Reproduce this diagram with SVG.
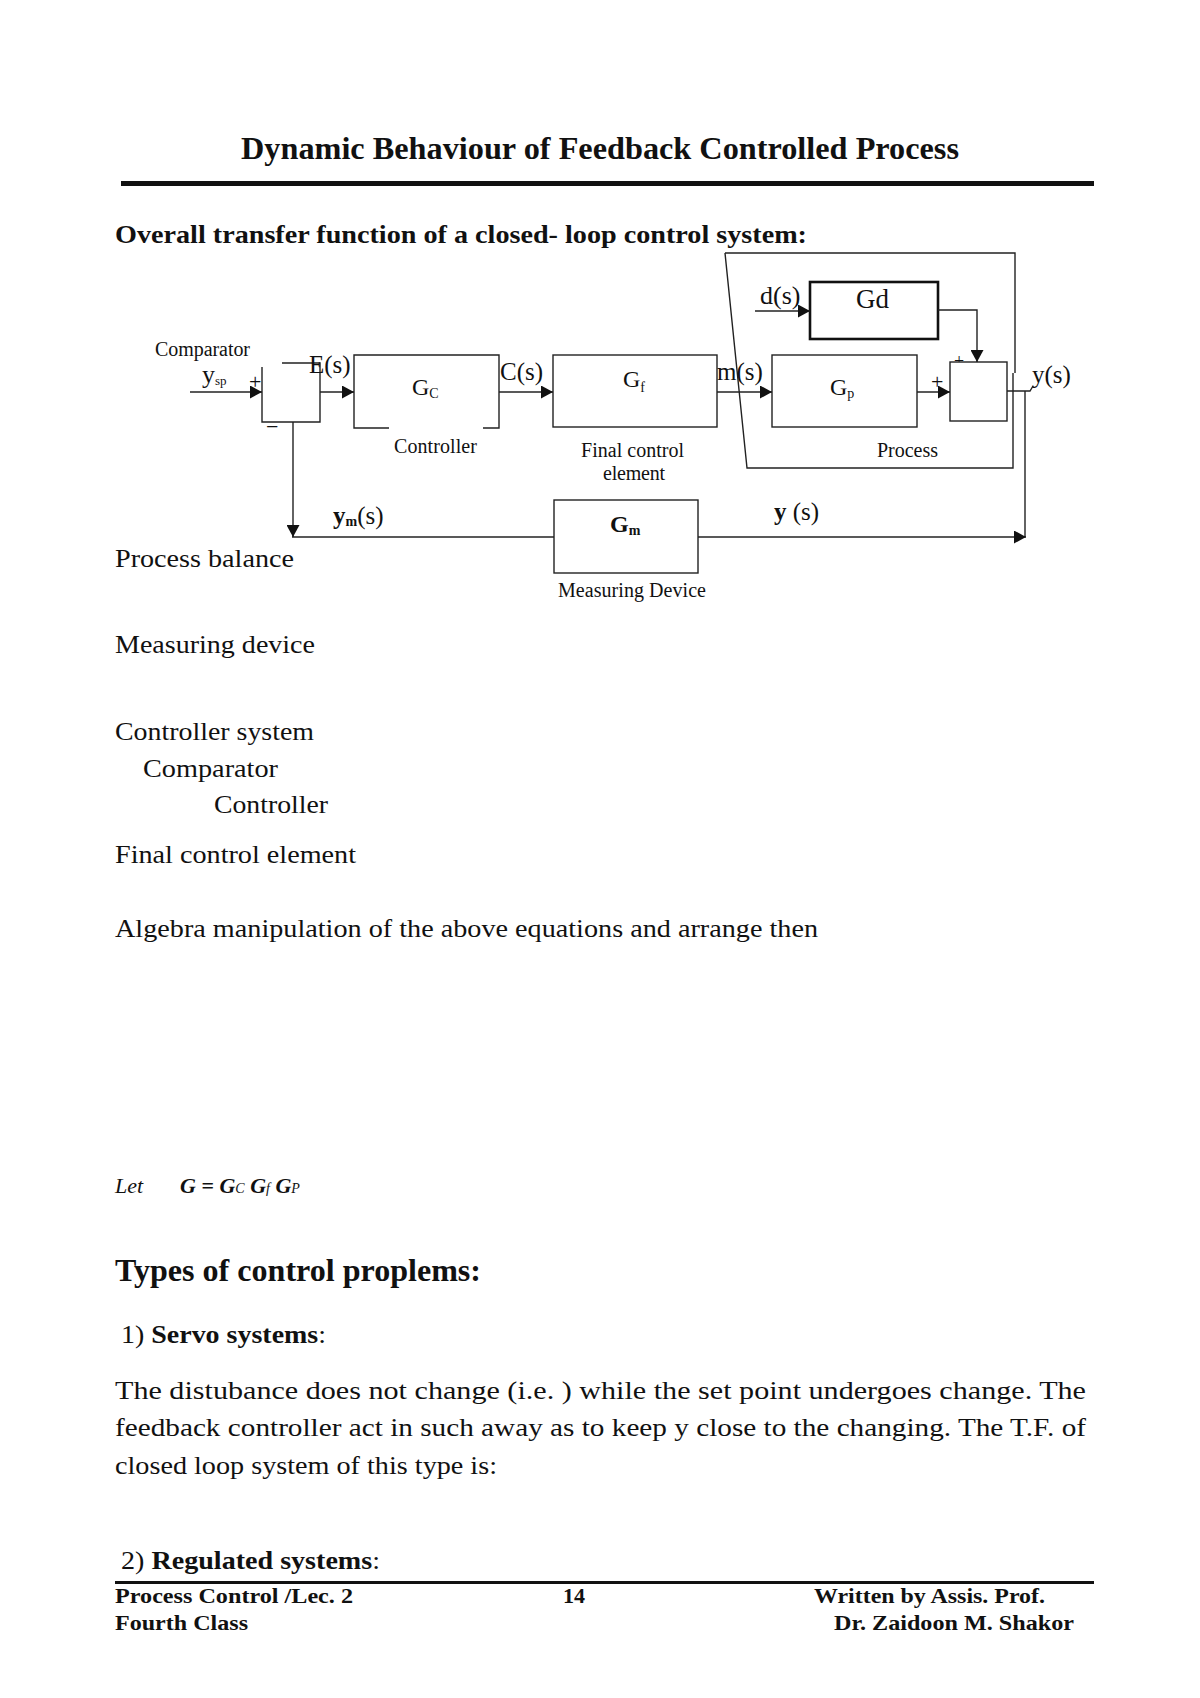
<svg xmlns="http://www.w3.org/2000/svg" width="1200" height="1698" viewBox="0 0 1200 1698">
<style>
text{font-family:"Liberation Serif","Times New Roman",serif;fill:#111}
.b{font-weight:bold}
.body{font-size:26px}
.lbl{font-size:20px}
.sig{font-size:25px}
.sub{font-size:14px}
.blk{fill:none;stroke:#222;stroke-width:1.4}
.ln{fill:none;stroke:#222;stroke-width:1.4}
</style>
<defs>
<marker id="ah" markerUnits="userSpaceOnUse" markerWidth="13" markerHeight="13" refX="12" refY="6.5" orient="auto">
<path d="M0,0 L12,6.5 L0,13 z" fill="#111"/>
</marker>
</defs>
<rect width="1200" height="1698" fill="#fff"/>

<g id="header">
<text x="241" y="159" class="b" font-size="31" textLength="718" lengthAdjust="spacingAndGlyphs">Dynamic Behaviour of Feedback Controlled Process</text>
<rect x="121" y="181" width="973" height="5" fill="#111"/>
<text x="115" y="243" class="b" font-size="25" textLength="692" lengthAdjust="spacingAndGlyphs">Overall transfer function of a closed- loop control system:</text>
</g>

<g id="process-boundary">
<path class="ln" d="M725,253 H1015 V373 M1013,373 V468 H747 L725,253"/>
<text x="877" y="457" class="lbl" textLength="61">Process</text>
</g>

<g id="comparator">
<text x="155" y="356" class="lbl" textLength="95">Comparator</text>
<path class="blk" d="M282,363 H320 V422 H262 V367"/>
<text x="249" y="389" font-size="22">+</text>
<text x="266" y="434" font-size="22">−</text>
</g>

<g id="Gc">
<path class="blk" d="M389,428 H354 V355 H499 V428 H483"/>
<text x="412" y="395" font-size="24">G<tspan class="sub" dy="3">C</tspan></text>
<text x="394" y="453" class="lbl" textLength="83">Controller</text>
</g>

<g id="Gf">
<rect class="blk" x="553" y="355" width="164" height="72"/>
<text x="623" y="387" font-size="24">G<tspan class="sub" dy="5">f</tspan></text>
<text x="581" y="457" class="lbl" textLength="103">Final control</text>
<text x="603" y="480" class="lbl" textLength="62">element</text>
</g>

<g id="Gp">
<rect class="blk" x="772" y="355" width="145" height="72"/>
<text x="830" y="395" font-size="24">G<tspan class="sub" dy="3">p</tspan></text>
</g>

<g id="Gd">
<rect x="810" y="282" width="128" height="57" fill="none" stroke="#111" stroke-width="2.6"/>
<text x="856" y="308" font-size="27">Gd</text>
</g>

<g id="summer">
<text x="954" y="367" font-size="18">+</text>
<rect x="950" y="362" width="57" height="59" fill="#fff" stroke="#222" stroke-width="1.4"/>
<text x="931" y="389" font-size="22">+</text>
</g>

<g id="Gm">
<rect class="blk" x="554" y="500" width="144" height="73"/>
<text x="610" y="532" font-size="24" class="b">G<tspan class="sub" dy="3">m</tspan></text>
<text x="558" y="597" class="lbl" textLength="148">Measuring Device</text>
</g>

<g id="connectors">
<line class="ln" x1="190" y1="392" x2="262" y2="392" marker-end="url(#ah)"/>
<line class="ln" x1="320" y1="392" x2="354" y2="392" marker-end="url(#ah)"/>
<line class="ln" x1="499" y1="392" x2="553" y2="392" marker-end="url(#ah)"/>
<line class="ln" x1="717" y1="392" x2="772" y2="392" marker-end="url(#ah)"/>
<line class="ln" x1="917" y1="392" x2="950" y2="392" marker-end="url(#ah)"/>
<line class="ln" x1="755" y1="311" x2="810" y2="311" marker-end="url(#ah)"/>
<path class="ln" d="M938,310 H977 V362" marker-end="url(#ah)"/>
<path class="ln" d="M1007,391 H1030 L1033,386"/>
<line class="ln" x1="1025" y1="391" x2="1025" y2="537"/>
<line class="ln" x1="698" y1="537" x2="1026" y2="537" marker-end="url(#ah)"/>
<line class="ln" x1="554" y1="537" x2="292" y2="537"/>
<line class="ln" x1="293" y1="422" x2="293" y2="537" marker-end="url(#ah)"/>
</g>

<g id="signal-labels">
<text x="202" y="383" font-size="26">y<tspan font-size="13" dy="2">sp</tspan></text>
<text x="309" y="373" class="sig">E(s)</text>
<text x="500" y="380" class="sig">C(s)</text>
<text x="717" y="380" class="sig">m(s)</text>
<text x="760" y="304" font-size="26">d(s)</text>
<text x="1032" y="383" class="sig">y(s)</text>
<text x="774" y="520" class="sig"><tspan class="b">y</tspan> (s)</text>
<text x="333" y="524" class="sig"><tspan class="b">y</tspan><tspan class="sub b" dy="2">m</tspan><tspan dy="-2">(s)</tspan></text>
</g>

<g id="body-text">
<text x="115" y="567" class="body" textLength="179" lengthAdjust="spacingAndGlyphs">Process balance</text>
<text x="115" y="653" class="body" textLength="200" lengthAdjust="spacingAndGlyphs">Measuring device</text>
<text x="115" y="740" class="body" textLength="199" lengthAdjust="spacingAndGlyphs">Controller system</text>
<text x="143" y="777" class="body" textLength="135" lengthAdjust="spacingAndGlyphs">Comparator</text>
<text x="214" y="813" class="body" textLength="114" lengthAdjust="spacingAndGlyphs">Controller</text>
<text x="115" y="863" class="body" textLength="241" lengthAdjust="spacingAndGlyphs">Final control element</text>
<text x="115" y="937" class="body" textLength="703" lengthAdjust="spacingAndGlyphs">Algebra manipulation of the above equations and arrange then</text>
<text x="115" y="1193" font-size="22"><tspan font-style="italic">Let</tspan><tspan x="180" class="b" font-style="italic">G</tspan><tspan class="b"> = </tspan><tspan class="b" font-style="italic">G</tspan><tspan font-size="14" font-style="italic">C</tspan><tspan class="b" font-style="italic"> G</tspan><tspan font-size="14" font-style="italic">f</tspan><tspan class="b" font-style="italic"> G</tspan><tspan font-size="14" font-style="italic">P</tspan></text>
<text x="115" y="1281" class="b" font-size="31" textLength="366" lengthAdjust="spacingAndGlyphs">Types of control proplems:</text>
<text x="121" y="1343" class="body" textLength="205" lengthAdjust="spacingAndGlyphs">1) <tspan class="b">Servo systems</tspan>:</text>
<text x="115" y="1399" class="body" textLength="971" lengthAdjust="spacingAndGlyphs">The distubance does not change (i.e. ) while the set point undergoes change. The</text>
<text x="115" y="1436" class="body" textLength="971" lengthAdjust="spacingAndGlyphs">feedback controller act in such away as to keep y close to the changing. The T.F. of</text>
<text x="115" y="1474" class="body" textLength="382" lengthAdjust="spacingAndGlyphs">closed loop system of this type is:</text>
<text x="121" y="1569" class="body" textLength="259" lengthAdjust="spacingAndGlyphs">2) <tspan class="b">Regulated systems</tspan>:</text>
</g>

<g id="footer">
<rect x="115" y="1581" width="979" height="3" fill="#111"/>
<text x="115" y="1603" class="b" font-size="22" textLength="238" lengthAdjust="spacingAndGlyphs">Process Control /Lec. 2</text>
<text x="563" y="1603" class="b" font-size="22">14</text>
<text x="814" y="1603" class="b" font-size="22" textLength="231" lengthAdjust="spacingAndGlyphs">Written by Assis. Prof.</text>
<text x="115" y="1630" class="b" font-size="22" textLength="133" lengthAdjust="spacingAndGlyphs">Fourth Class</text>
<text x="834" y="1630" class="b" font-size="22" textLength="240" lengthAdjust="spacingAndGlyphs">Dr. Zaidoon M. Shakor</text>
</g>
</svg>
